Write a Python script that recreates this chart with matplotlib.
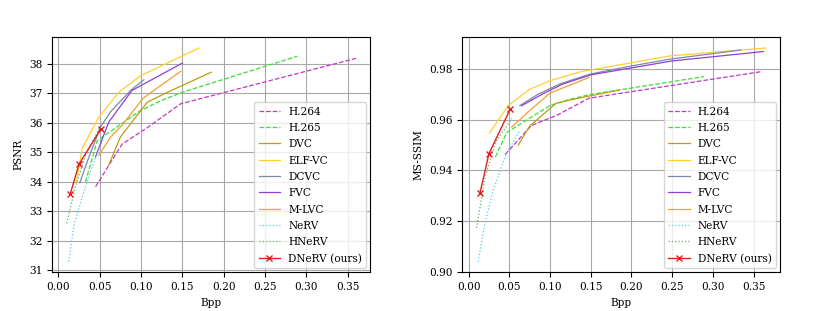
import numpy as np
import matplotlib
matplotlib.use('Agg')
import matplotlib.pyplot as plt

plt.rcParams['font.family'] = 'serif'
plt.rcParams['font.size'] = 7.6

names = ['H.264', 'H.265', 'DVC', 'ELF-VC', 'DCVC', 'FVC', 'M-LVC', 'NeRV', 'HNeRV', 'DNeRV (ours)']
colors = ['#c038c8', '#38e038', '#b8a010', '#ffd030', '#7a8aa8', '#9040d0', '#f0a030', '#50d0e0', '#60b060', '#e02020']
styles = ['--', '--', '-', '-', '-', '-', '-', ':', ':', '-']

# PSNR panel
psnr_bpp = [
    [0.045, 0.077, 0.108, 0.148, 0.36],
    [0.0328, 0.047, 0.0994, 0.1236, 0.15, 0.289],
    [0.061, 0.075, 0.1075, 0.132, 0.185],
    [0.022, 0.0288, 0.0477, 0.073, 0.0994, 0.170],
    [0.026, 0.0356, 0.051, 0.063, 0.0873, 0.1034],
    [0.045, 0.051, 0.061, 0.089, 0.150],
    [0.049, 0.063, 0.077, 0.103, 0.148],
    [0.0126, 0.019, 0.027, 0.038, 0.057],
    [0.0102, 0.0207, 0.033, 0.05],
    [0.0145, 0.025, 0.051],
]
psnr = [
    [33.84, 35.28, 35.85, 36.65, 38.19],
    [34.0, 35.4, 36.42, 36.75, 37.04, 38.26],
    [34.57, 35.52, 36.7, 37.04, 37.72],
    [34.0, 35.13, 36.14, 37.04, 37.6, 38.54],
    [33.97, 34.74, 35.86, 36.37, 37.1, 37.46],
    [34.85, 35.3, 36.03, 37.1, 38.03],
    [34.9, 35.52, 35.92, 36.85, 37.75],
    [31.3, 32.55, 33.3, 34.3, 35.65],
    [32.6, 33.85, 34.9, 35.85],
    [33.6, 34.6, 35.78],
]

# MS-SSIM panel
ssim_bpp = [
    [0.045, 0.077, 0.108, 0.148, 0.36],
    [0.0328, 0.047, 0.1, 0.1236, 0.15, 0.289],
    [0.061, 0.075, 0.1075, 0.132, 0.185],
    [0.0254, 0.0487, 0.0754, 0.1, 0.137, 0.2476, 0.365],
    [0.063, 0.085, 0.112, 0.149, 0.2, 0.2476, 0.334],
    [0.065, 0.09, 0.115, 0.15, 0.25, 0.362],
    [0.053, 0.075, 0.1, 0.148],
    [0.0118, 0.02, 0.03, 0.045, 0.063],
    [0.0098, 0.02, 0.033, 0.053],
    [0.014, 0.025, 0.051],
]
ssim = [
    [0.9463, 0.9577, 0.9617, 0.9685, 0.979],
    [0.9453, 0.955, 0.9656, 0.968, 0.970, 0.977],
    [0.950, 0.9575, 0.9665, 0.9683, 0.9717],
    [0.9547, 0.9656, 0.9721, 0.9754, 0.9789, 0.9852, 0.9883],
    [0.9656, 0.970, 0.9741, 0.978, 0.9812, 0.9839, 0.9875],
    [0.9655, 0.970, 0.974, 0.9777, 0.9832, 0.9869],
    [0.9571, 0.9636, 0.9705, 0.9767],
    [0.904, 0.919, 0.932, 0.9455, 0.956],
    [0.9173, 0.937, 0.951, 0.9605],
    [0.9311, 0.9466, 0.9641],
]

fig, axes = plt.subplots(1, 2, figsize=(8.25, 3.11), dpi=100)
fig.subplots_adjust(left=0.0634, right=0.9458, bottom=0.1245, top=0.880, wspace=0.288)

for ax, xs, ys, ylab in [(axes[0], psnr_bpp, psnr, 'PSNR'), (axes[1], ssim_bpp, ssim, 'MS-SSIM')]:
    for i in range(len(names)):
        if i == len(names) - 1:
            ax.plot(xs[i], ys[i], styles[i], color=colors[i], lw=1, marker='x', ms=5, label=names[i])
        else:
            ax.plot(xs[i], ys[i], styles[i], color=colors[i], lw=0.9, label=names[i])
    ax.set_xticks(np.arange(0, 0.36, 0.05))
    ax.set_xlabel('Bpp')
    ax.set_ylabel(ylab)
    ax.grid(color='#a8a8a8')
    ax.legend(loc='lower right', labelspacing=0.6, borderaxespad=0.4)

axes[1].set_yticks([0.90, 0.92, 0.94, 0.96, 0.98])

plt.savefig('out.png')
